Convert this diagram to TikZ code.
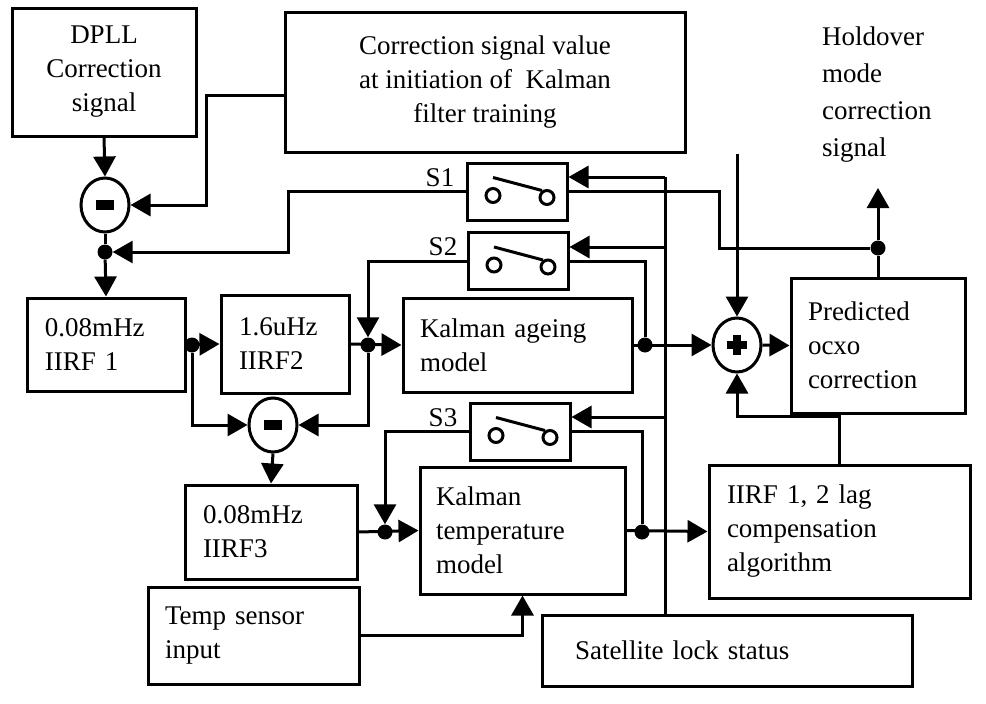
\documentclass[tikz,border=0pt]{standalone}
\usepackage{fontspec}
\setmainfont{Liberation Serif}
\usetikzlibrary{arrows.meta,calc}
\tikzset{
  line/.style={line width=3pt},
  arr/.style={line width=3pt,-{Triangle[length=20pt,width=22pt]}},
  box/.style={draw,line width=3pt,inner sep=0pt,align=left,font=\fontsize{27}{34}\selectfont},
  sw/.style={draw,line width=3pt,minimum width=100pt,minimum height=57pt},
  sumc/.style={draw,line width=3pt,ellipse,minimum width=48pt,minimum height=54pt,inner sep=0pt},
  dot/.style={circle,fill,inner sep=0pt,minimum size=15pt},
  lbl/.style={font=\fontsize{27}{34}\selectfont,inner sep=0pt},
  pics/switch/.style={code={
    \draw[line width=3pt] (-24,4) circle (7pt);
    \draw[line width=3pt] (30,6) circle (7pt);
    \draw[line width=3pt] (-24,-14) -- (25,-1);
  }}
}
\usetikzlibrary{shapes.geometric}
\begin{document}
\begin{tikzpicture}[x=1pt,y=-1pt]
\useasboundingbox (0,0) rectangle (986,704);
% boxes
\node[box,align=center,minimum width=184pt,minimum height=128pt] (dpll) at (104,72) {DPLL\\Correction\\signal};
\node[box,align=center,minimum width=400pt,minimum height=140pt] (corr) at (485,82) {Correction signal value\\at initiation of~ Kalman\\filter training};
\node[lbl,anchor=north west,align=left,font=\fontsize{27}{37}\selectfont] (hold) at (822,27) {Holdover\\mode\\correction\\signal};
\node[box,minimum width=158pt,minimum height=93pt,text width=122pt] (iirf1) at (106,344.5) {0.08mHz\\ IIRF 1};
\node[box,minimum width=128pt,minimum height=98pt,text width=92pt] (iirf2) at (285,344) {1.6uHz\\IIRF2};
\node[box,minimum width=229pt,minimum height=94pt,text width=195pt] (kage) at (517.5,345) {Kalman ageing\\model};
\node[box,minimum width=174pt,minimum height=135pt,text width=140pt] (pred) at (878,345.5) {Predicted\\ocxo\\correction};
\node[box,minimum width=172pt,minimum height=94pt,text width=136pt] (iirf3) at (271,532) {0.08mHz\\IIRF3};
\node[box,minimum width=205pt,minimum height=127pt,text width=173pt] (ktemp) at (522.5,530.5) {Kalman\\temperature\\model};
\node[box,minimum width=261pt,minimum height=133pt,text width=225pt] (lag) at (839.5,531.5) {IIRF 1, 2 lag\\compensation\\algorithm};
\node[box,minimum width=211pt,minimum height=97pt,text width=177pt] (temp) at (253.5,635.5) {Temp sensor\\input};
\node[box,minimum width=370pt,minimum height=71pt,text width=304pt] (sat) at (727,650.5) {Satellite lock status};
% switches
\node[sw] (s1) at (517,191.5) {};
\node[sw] (s2) at (518,261) {};
\node[sw] (s3) at (520,431.5) {};
\pic at (s1) {switch};
\pic at (s2) {switch};
\pic at (s3) {switch};
\node[lbl] (l1) at (440,178) {S1};
\node[lbl] (l2) at (443,247) {S2};
\node[lbl] (l3) at (443,418) {S3};
% summing junctions
\node[sumc] (m1) at (105,205) {};
\fill (m1) ++(-9,-5) rectangle ++(18,10);
\node[sumc] (m2) at (273,425) {};
\fill (m2) ++(-9,-5) rectangle ++(18,10);
\node[sumc] (plus) at (737,345) {};
\fill (plus) ++(-10,-4) rectangle ++(20,8);
\fill (plus) ++(-4,-10) rectangle ++(8,20);
% junction dots
\node[dot] (j1) at (105,252) {};
\node[dot] (j2) at (192,345) {};
\node[dot] (j3) at (368,345) {};
\node[dot] (j4) at (385,532) {};
\node[dot] (j5) at (642,532) {};
\node[dot] (j6) at (645,345) {};
\node[dot] (j7) at (878,248) {};
\coordinate (out) at (878,188);
\coordinate (st) at (665,177);
\coordinate (a2) at (665,247);
\coordinate (a3) at (665,417);
% connectors
\draw[arr] (dpll.south) -- (m1.north);
\draw[arr] ([yshift=-13pt]corr.west) -- ++(-77,0) |- (m1.east);
\draw[line] (m1.south) -- (j1);
\draw[arr] (j1) -- (iirf1.north);
\draw[arr] (s1.west) -- ++(-177,0) |- (j1.east);
\draw[arr] (iirf1.east) -- (iirf2.west);
\draw[arr] (j2) |- (m2.west);
\draw[arr] (iirf2.east) -- (kage.west);
\draw[arr] (s2.west) -| (j3.north);
\draw[arr] (j3) |- (m2.east);
\draw[arr] (m2.south) -- (iirf3.north);
\draw[arr] (iirf3.east) -- (ktemp.west);
\draw[arr] (s3.west) -| (j4.north);
\draw[arr] (ktemp.east) -- (lag.west);
\draw[line] (s3.east) -| (j5);
\draw[arr] (temp.east |- 0,635) -| (ktemp.south);
\draw[arr] (kage.east) -- (plus.west);
\draw[line] (s2.east) -| (j6);
\draw[arr] (plus.north |- corr.south) -- (plus.north);
\draw[arr] (plus.east) -- (pred.west);
\draw[arr] (lag.north) -- ++(0,-47) -| (plus.south);
\draw[line] (s1.east) -- ++(151,0) |- (j7);
\draw[line] (pred.north) -- (j7);
\draw[arr] (j7) -- (out);
\draw[line] (st |- sat.north) -- (st);
\draw[arr] (st) -- (st -| s1.east);
\draw[arr] (a2) -- (a2 -| s2.east);
\draw[arr] (a3) -- (a3 -| s3.east);
\end{tikzpicture}
\end{document}
